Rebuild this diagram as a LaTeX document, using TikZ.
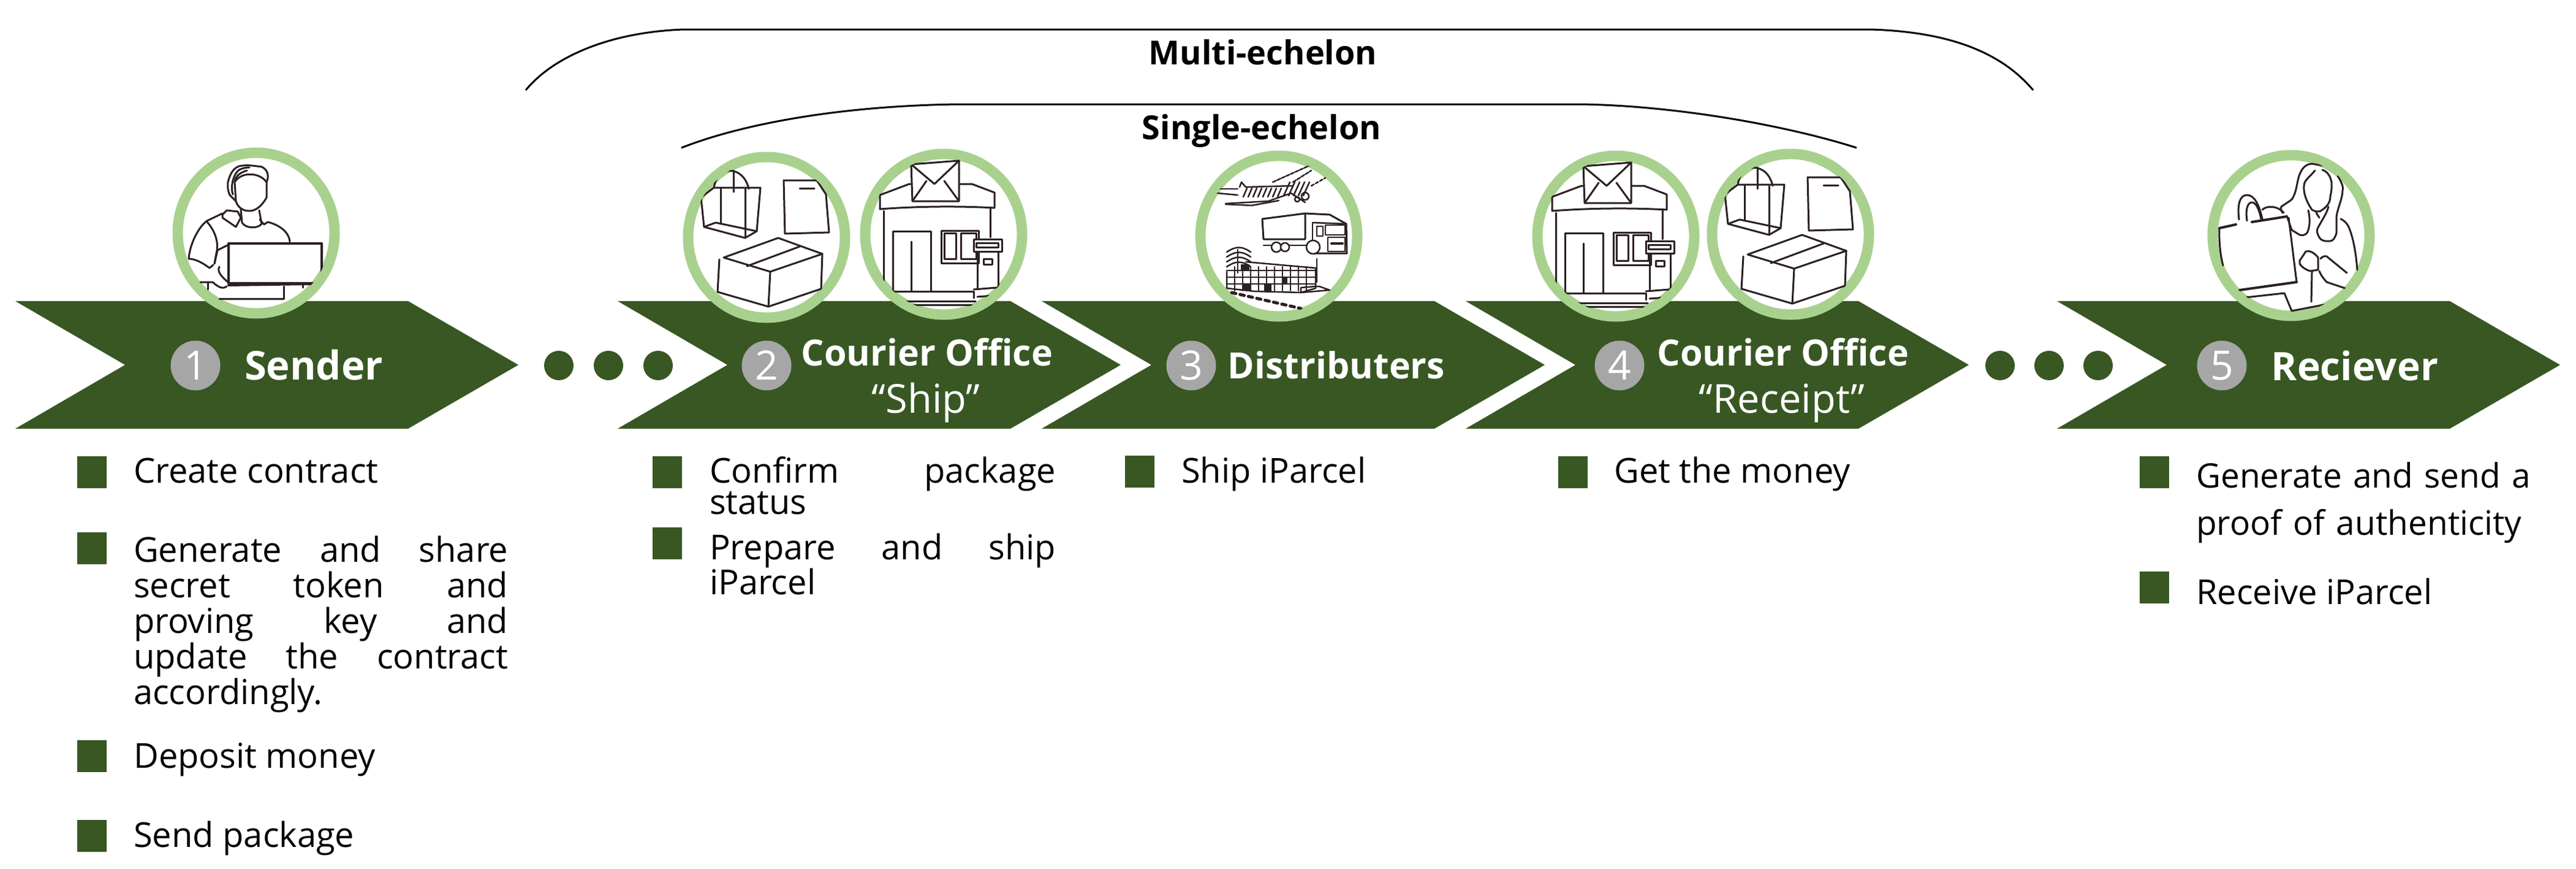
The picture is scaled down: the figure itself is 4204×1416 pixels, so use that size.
\documentclass[tikz,border=0pt]{standalone}
\usepackage{fontspec}
\setmainfont{Open Sans}
\usetikzlibrary{shapes.geometric}
\definecolor{dgreen}{HTML}{385723}
\definecolor{lgreen}{HTML}{A9D18E}
\definecolor{numgray}{HTML}{A6A6A6}
\definecolor{sketch}{HTML}{2B2024}
\newcommand{\ringclip}{\clip (0,0) ellipse (122pt and 125pt);}
\tikzset{
  pics/chevron/.style={code={
    \fill[dgreen] (0,-104) -- (641,-104) -- (821,0) -- (641,104) -- (0,104) -- (179,0) -- cycle;
  }},
  pics/person/.style={code={
    \begin{scope}[art]
      \ringclip
      % head
      \draw (-35,-83) .. controls (-25,-100) and (5,-100) .. (17,-83) -- (17,-58) .. controls (10,-45) and (0,-36) .. (-11,-36) .. controls (-22,-36) and (-30,-42) .. (-33,-52) -- cycle;
      \draw (17,-83) .. controls (21,-92) and (20,-103) .. (9,-108) .. controls (-5,-110) and (-15,-111) .. (-21,-110) .. controls (-32,-110) and (-41,-103) .. (-46,-83) .. controls (-47,-72) and (-45,-66) .. (-43,-62) -- (-33,-52);
      \draw (-38,-63) .. controls (-42,-75) and (-38,-95) .. (-28,-103) .. controls (-22,-106) and (-16,-107) .. (-11,-107);
      \draw (-35,-83) .. controls (-34,-92) and (-28,-98) .. (-15,-102);
      % neck and collar
      \draw (-25,-38) -- (-23,-17) .. controls (-18,-8) and (2,-6) .. (9,-15) -- (5,-37);
      \draw (-55,-30) -- (-48,-37) -- (-30,-35) -- (-25,-25) -- (-33,-10) -- (-55,-25) -- cycle;
      \draw (6,-22) -- (13,-14) -- (19,-18);
      % shoulders and sleeve
      \draw (-55,-32) -- (-80,-20) .. controls (-92,-12) and (-108,15) .. (-110,42);
      \draw (19,-18) .. controls (35,-14) and (53,-4) .. (55,14);
      \draw (-80,-18) .. controls (-68,-5) and (-60,15) .. (-65,33) -- (-68,50);
      \draw (-110,42) .. controls (-100,42) and (-88,48) .. (-76,57) -- (-70,52);
      \draw (-68,50) -- (-63,28) -- (-45,19);
      % hand
      \draw (-60,55) .. controls (-64,62) and (-58,70) .. (-46,80);
      \draw (-48,87) .. controls (-55,92) and (-62,88) .. (-71,80) -- (-91,80);
      \draw (-79,80) -- (-79,92);
      % laptop and table
      \draw[line width=4pt] (-45,17) rectangle (107,82);
      \draw[line width=4pt] (-45,85) -- (89,83);
      \draw (45,87) -- (45,107) -- (-60,107);
      \draw (76,85) -- (76,89);
    \end{scope}
  }},
  pics/parcels/.style={code={
    \begin{scope}[art]
      \ringclip
      % shopping bag
      \draw (-86,-81) -- (-10,-81) -- (-16,-10) -- (-35,1) -- (-102,-17) -- (-107,-65) -- cycle;
      \draw (-75,-81) -- (-75,-22);
      \draw (-35,-79) -- (-35,1);
      \draw (-102,-17) -- (-83,-24) -- (-16,-10);
      \draw (-86,-81) .. controls (-80,-118) and (-38,-118) .. (-29,-79);
      \draw (-54,-109) -- (-54,-74);
      % flat bag
      \draw (28,-93) -- (82,-93) -- (97,-70) -- (102,-8) -- (30,-6) -- cycle;
      \draw (54,-80) -- (78,-80);
      % box
      \draw (-70,33) -- (19,1) -- (91,27) -- (6,56) -- cycle;
      \draw (-77,36) -- (-80,89) -- (3,113) -- (89,84) -- (91,27);
      \draw (6,56) -- (3,113);
      \draw (-32,47) -- (54,15);
    \end{scope}
  }},
  pics/shop/.style={code={
    \begin{scope}[art]
      \ringclip
      % envelope
      \draw (-53,-114) -- (25,-120) -- (25,-54) -- (-51,-54) -- cycle;
      \draw (-53,-114) -- (-15,-82) -- (25,-120);
      \draw (-51,-54) -- (-28,-87);
      \draw (25,-54) -- (1,-87);
      % roof
      \draw (-53,-82) -- (-56,-82) -- (-104,-64) -- (-104,-41) .. controls (-40,-46) and (30,-46) .. (83,-43) -- (83,-68) -- (46,-82) -- (26,-82);
      % walls
      \draw (-98,-38) -- (-98,93);
      \draw (76,-42) -- (76,5);
      % door
      \draw (-83,93) -- (-83,-5) -- (-21,-5) -- (-21,93);
      \draw (-53,12) -- (-53,93);
      % window
      \draw (-4,-6) rectangle (57,47);
      \draw (1,-2) rectangle (20,40);
      \draw (28,-2) rectangle (53,40);
      % parcel drop
      \draw[fill=white] (49,8) rectangle (95,28);
      \draw (53,14) rectangle (89,21);
      \draw (55,28) -- (55,88);
      \draw (89,28) -- (89,88);
      \draw (65,40) rectangle (79,49);
      % steps
      \draw (-110,93) -- (49,93) -- (49,104);
      \draw (49,90) -- (100,86);
      \draw (-63,109) -- (52,109);
      \draw (-50,115) -- (46,115);
      \draw (55,102) -- (80,100);
    \end{scope}
  }},
  pics/transport/.style={code={
    \begin{scope}[art]
      \ringclip
      % plane
      \begin{scope}[line width=2.5pt]
        \draw (-97,-77) -- (-67,-77);
        \draw (-100,-70) -- (-67,-67);
        \draw (-64,-80) -- (-61,-88) -- (-54,-80) -- (23,-82);
        \draw (-87,-53) -- (-17,-57) -- (20,-70) -- (43,-55);
        \draw (-87,-52) -- (-44,-50) -- (0,-58);
        \draw[dash pattern=on 6pt off 2pt] (-10,-88) -- (50,-115);
        \draw[dash pattern=on 6pt off 2pt] (23,-88) -- (53,-107);
        \draw[dash pattern=on 5pt off 3pt] (53,-82) -- (76,-95);
        \foreach \px in {-58,-50,...,-2} \draw (\px,-64) -- (\px+6,-78);
        \foreach \px in {8,16,...,40} \draw (\px,-66) -- (\px+10,-88);
        \draw (43,-65) circle (6pt);
        \draw (30,-60) circle (4pt);
      \end{scope}
      % truck
      \draw (-27,-28) -- (43,-37) -- (43,5) -- (-25,5) -- cycle;
      \draw (43,-37) -- (83,-35) -- (110,-20) -- (111,28) -- (58,28);
      \begin{scope}[line width=2.5pt]
        \draw (55,-22) -- (110,-20);
        \draw (55,-22) -- (55,8);
        \draw (76,-18) rectangle (108,-2);
        \draw (62,-16) rectangle (72,0);
        \draw (80,2) rectangle (108,25);
        \draw[line width=4pt] (86,12) -- (104,12);
        \draw (-25,15) -- (46,15);
        \draw[fill=white] (-4,18) circle (8pt);
        \draw[fill=white] (10,18) circle (7pt);
        \draw[fill=white] (56,18) circle (11pt);
      \end{scope}
      % warehouse and tree
      \begin{scope}[line width=2.5pt]
        \foreach \ty in {24,32,40,48} \draw (-85,\ty+2) .. controls (-70,\ty-8) and (-60,\ty-8) .. (-46,\ty+2);
        \draw (-67,22) -- (-67,60);
        \draw (-54,42) -- (60,52) -- (60,85) -- (36,92) -- (-40,90) -- (-85,85) -- (-85,58);
        \foreach \gx in {-72,-59,...,50} \draw (\gx,50) -- (\gx,89);
        \foreach \gy in {56,67,78} \draw (-85,\gy) -- (60,\gy);
        \fill[sketch] (-62,46) rectangle (-48,56);
        \fill[sketch] (-24,78) rectangle (-12,90);
        \fill[sketch] (5,68) rectangle (14,78);
        \fill[sketch] (-58,78) rectangle (-46,88);
        \draw (62,37) -- (62,75);
        \draw (60,82) -- (66,82) -- (83,88) -- (36,92);
        \draw (36,92) -- (36,84) -- (60,82);
      \end{scope}
      \draw[line width=5pt,dash pattern=on 7pt off 7pt] (-77,92) -- (36,118);
    \end{scope}
  }},
  pics/buyer/.style={code={
    \begin{scope}[art]
      \ringclip
      % bag
      \draw[line width=4pt] (-117,-12) -- (-90,-18);
      \draw[line width=4pt] (-64,-22) -- (-7,-31);
      \draw (-117,-12) .. controls (-118,10) and (-115,35) .. (-111,49);
      \draw (-4,-29) -- (9,76);
      \draw[line width=4pt] (9,76) -- (-84,89);
      \draw (-85,-26) .. controls (-88,-50) and (-84,-66) .. (-72,-66) .. controls (-60,-66) and (-52,-50) .. (-47,-27);
      \draw (-72,-24) .. controls (-75,-45) and (-70,-54) .. (-64,-54) .. controls (-57,-54) and (-52,-42) .. (-49,-27);
      \draw (-47,-42) .. controls (-40,-49) and (-22,-49) .. (-12,-37);
      % head and hair
      \draw (39,-106) .. controls (30,-95) and (21,-90) .. (21,-81) .. controls (20,-70) and (24,-57) .. (34,-42) .. controls (40,-38) and (48,-38) .. (51,-42) .. controls (60,-48) and (64,-55) .. (64,-64) .. controls (67,-75) and (66,-85) .. (66,-87) .. controls (64,-98) and (58,-105) .. (51,-107);
      \draw (-14,-37) .. controls (-18,-42) and (-16,-47) .. (-16,-47) .. controls (-5,-55) and (3,-58) .. (4,-64) .. controls (10,-75) and (10,-95) .. (16,-104) .. controls (20,-113) and (28,-117) .. (34,-117) -- (51,-114);
      \draw (76,-97) .. controls (82,-88) and (86,-78) .. (84,-74) .. controls (84,-60) and (76,-45) .. (74,-31) -- (74,-4) .. controls (72,4) and (68,9) .. (64,9) .. controls (55,10) and (48,8) .. (46,3) .. controls (42,-3) and (42,-8) .. (43,-11) .. controls (50,-25) and (58,-35) .. (61,-47);
      \draw (28,-41) .. controls (32,-25) and (30,-12) .. (26,-4) .. controls (22,0) and (18,0) .. (14,-1) -- (1,-9) -- (-7,-32);
      \draw (41,-37) -- (46,-29);
      % body
      \draw (81,-27) .. controls (88,-24) and (92,-18) .. (94,-14) .. controls (102,5) and (106,30) .. (108,56);
      \draw (14,41) -- (24,26) .. controls (30,24) and (38,28) .. (44,36) -- (44,56) -- (31,58) .. controls (22,55) and (16,50) .. (14,46) -- cycle;
      \draw (48,38) .. controls (50,35) and (54,33) .. (58,34) -- (91,61);
      \draw (46,58) .. controls (50,68) and (55,72) .. (58,76) -- (88,86);
      \draw (34,59) -- (33,108);
      \draw (-74,101) -- (-11,94) -- (1,123) -- (53,113);
    \end{scope}
  }},
}
\begin{document}
\begin{tikzpicture}[
    x=1pt,y=-1pt,
    art/.style={draw=sketch,line width=3pt,line cap=round,line join=round},
    ring/.style={ellipse,draw=lgreen,fill=white,line width=17pt,inner sep=0pt,minimum width=256pt,minimum height=262pt},
    numcirc/.style={circle,fill=numgray,text=white,inner sep=0pt,minimum size=81pt,font=\fontsize{66}{66}\selectfont},
    head/.style={text=white,inner sep=0pt,anchor=base,font=\fontsize{#1}{#1}\selectfont\bfseries},
    head/.default=59,
    sub/.style={text=white,inner sep=0pt,anchor=base,font=\fontsize{65}{65}\selectfont},
    echelon/.style={text=black,inner sep=0pt,anchor=base,font=\fontsize{54}{54}\selectfont\bfseries},
    bullet/.style={fill=dgreen,inner sep=0pt,minimum width=48pt,minimum height=52pt},
    item/.style={text=black,inner sep=0pt,anchor=base west,font=\fontsize{56}{58}\selectfont},
    dots/.style={circle,fill=dgreen,inner sep=0pt,minimum size=48pt},
    brace/.style={draw=black,line width=3pt},
  ]
  \useasboundingbox (0,0) rectangle (4204,1416);

  % arrows
  \pic at (25,595) {chevron};
  \pic at (1008,595) {chevron};
  \pic at (1700,595) {chevron};
  \pic at (2392,595) {chevron};
  \pic at (3357,595) {chevron};

  % dots between the steps
  \node[dots] (d1) at (912,596) {};
  \node[dots] (d2) at (993,596) {};
  \node[dots] (d3) at (1074,596) {};
  \node[dots] (d4) at (3264,596) {};
  \node[dots] (d5) at (3344,596) {};
  \node[dots] (d6) at (3424,596) {};

  % rings with sketches
  \node[ring] (r1) at (418,380) {};
  \node[ring] (r2a) at (1251,387) {};
  \node[ring] (r2b) at (1540,382) {};
  \node[ring] (r3) at (2087,385) {};
  \node[ring] (r4a) at (2637,385) {};
  \node[ring] (r4b) at (2922,382) {};
  \node[ring] (r5) at (3739,384) {};
  \pic at (r1.center) {person};
  \pic at (r2a.center) {parcels};
  \pic at (r2b.center) {shop};
  \pic at (r3.center) {transport};
  \pic at (r4a.center) {shop};
  \pic at (r4b.center) {parcels};
  \pic at (r5.center) {buyer};

  % step titles
  \node[numcirc] (n1) at (319,596) {1};
  \node[numcirc] (n2) at (1251,596) {2};
  \node[numcirc] (n3) at (1944,596) {3};
  \node[numcirc] (n4) at (2643,596) {4};
  \node[numcirc] (n5) at (3626,596) {5};
  \node[head=65] (t1) at (512,619) {Sender};
  \node[head] (t2) at (1513,596) {Courier Office};
  \node[sub] (t2s) at (1511,673) {“Ship”};
  \node[head] (t3) at (2181,617) {Distributers};
  \node[head] (t4) at (2910,596) {Courier Office};
  \node[sub] (t4s) at (2908,673) {“Receipt”};
  \node[head=64] (t5) at (3843,620) {Reciever};

  % echelon brackets
  \coordinate (ml) at (858,147);
  \coordinate (mr) at (3318,147);
  \coordinate (sl) at (1112,241);
  \coordinate (sr) at (3030,241);
  \draw[brace] (ml) .. controls (905,90) and (1000,52) .. (1116,48) -- (3052,48) .. controls (3190,52) and (3270,90) .. (mr);
  \draw[brace] (sl) .. controls (1230,195) and (1400,172) .. (1564,170) -- (2580,170) .. controls (2720,172) and (2900,200) .. (sr);
  \node[echelon] (multi) at (2061,105) {Multi-echelon};
  \node[echelon] (single) at (2059,227) {Single-echelon};

  % sender list
  \node[bullet] (b1a) at (150,770) {};
  \node[item] (i1a) at (218,787) {Create contract};
  \node[bullet] (b1b) at (150,894) {};
  \node[item,text width=611pt,align=justify] (i1b) at (218,916) {Generate and share\linebreak secret token and\linebreak proving key and\linebreak update the contract\linebreak accordingly.};
  \node[bullet] (b1c) at (150,1233) {};
  \node[item] (i1c) at (218,1252) {Deposit money};
  \node[bullet] (b1d) at (150,1363) {};
  \node[item] (i1d) at (218,1381) {Send package};

  % courier ship list
  \node[bullet] (b2a) at (1089,770) {};
  \node[item,text width=565pt,align=justify,font=\fontsize{56}{51}\selectfont] (i2a) at (1158,787) {Confirm package\linebreak status};
  \node[bullet] (b2b) at (1089,886) {};
  \node[item,text width=565pt,align=justify,font=\fontsize{56}{50}\selectfont] (i2b) at (1158,912) {Prepare and ship\linebreak iParcel};

  % distributer list
  \node[bullet] (b3a) at (1860,769) {};
  \node[item] (i3a) at (1928,787) {Ship iParcel};

  % courier receipt list
  \node[bullet] (b4a) at (2567,770) {};
  \node[item] (i4a) at (2634,787) {Get the money};

  % receiver list
  \node[bullet] (b5a) at (3516,770) {};
  \node[item,font=\fontsize{55}{77}\selectfont,text width=560pt,align=left] (i5a) at (3584,795) {Generate and send a\\proof of authenticity};
  \node[bullet] (b5b) at (3516,958) {};
  \node[item] (i5b) at (3584,985) {Receive iParcel};
\end{tikzpicture}
\end{document}
